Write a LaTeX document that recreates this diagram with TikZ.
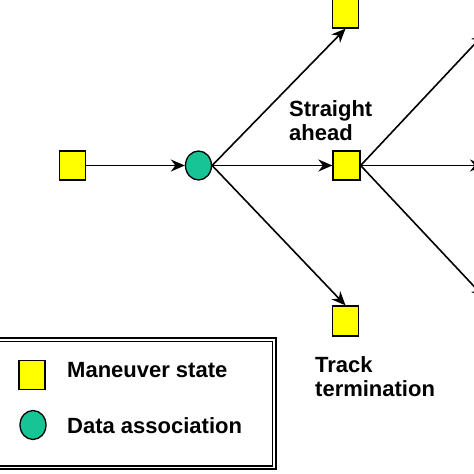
\documentclass[tikz,border=0pt]{standalone}
\usepackage{fontspec}
\setmainfont{Liberation Sans}
\usetikzlibrary{arrows.meta,shapes.geometric}
\definecolor{stateyellow}{RGB}{255,255,0}
\definecolor{assocgreen}{RGB}{22,196,150}
\begin{document}
\begin{tikzpicture}[x=1pt,y=-1pt,
  statebox/.style={draw=black,line width=1.3pt,fill=stateyellow,rectangle,inner sep=0pt,minimum width=26pt,minimum height=29pt},
  assoc/.style={draw=black,line width=1.3pt,fill=assocgreen,ellipse,inner sep=0pt,minimum width=26pt,minimum height=29pt},
  conn/.style={line width=1.6pt,-{Stealth[length=14pt,width=12pt,inset=4.5pt]}},
  lbl/.style={font=\bfseries\fontsize{22}{24}\selectfont,inner sep=0pt,align=left}]
\useasboundingbox (0,0) rectangle (474,474);
\fill[white] (0,0) rectangle (474,474);
\begin{scope}
\clip (0,0) rectangle (474,474);
% nodes
\node[statebox] (start) at (72.5,165.5) {};
\node[assoc] (da) at (198.5,165.5) {};
\node[statebox,minimum width=27pt] (mid) at (346.5,165.5) {};
\node[statebox] (top) at (345.5,13.5) {};
\node[statebox,minimum height=30pt] (bot) at (345.5,321) {};
\coordinate (ru) at (485,33);
\coordinate (rm) at (484,165.5);
\coordinate (rd) at (485,298);
% connectors
\draw[conn] (start.east) -- (da.west);
\draw[conn] (da.east) -- (mid.west);
\draw[conn] (da.east) -- (top.south);
\draw[conn] (da.east) -- (bot.north);
\draw[conn] (mid.east) -- (rm);
\draw[conn] (mid.east) -- (ru);
\draw[conn] (mid.east) -- (rd);
% labels
\node[lbl,anchor=north west] (sa) at (289,100) {Straight\\ahead};
\node[lbl,anchor=north west] (tt) at (315,356) {Track\\termination};
% legend
\draw[line width=2pt] (-5,338) rectangle (275.7,468.5);
\draw[line width=1.5pt] (-5,341.5) rectangle (272.5,466);
\node[statebox] (lsq) at (32,375) {};
\node[assoc] (lci) at (33,425) {};
\node[lbl,anchor=base west] (lt1) at (67,377) {Maneuver state};
\node[lbl,anchor=base west] (lt2) at (67,433) {Data association};
\end{scope}
\end{tikzpicture}
\end{document}
